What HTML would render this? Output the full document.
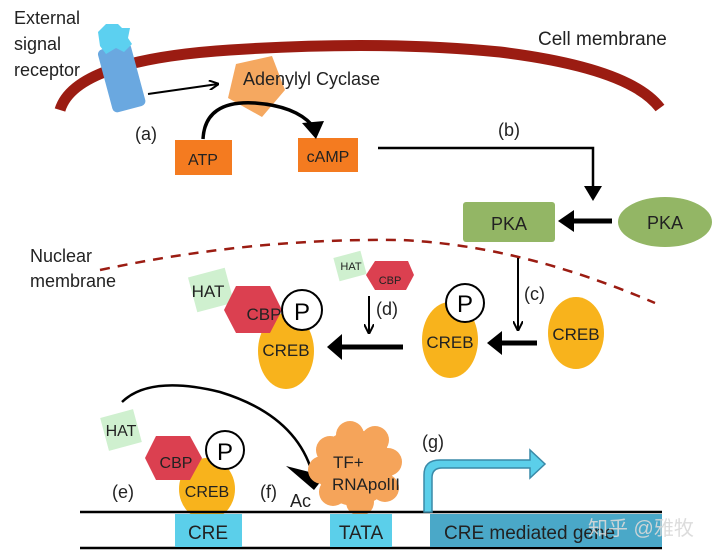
<!DOCTYPE html>
<html><head><meta charset="utf-8"><style>
body{margin:0;background:#fff;}
svg{display:block;font-family:"Liberation Sans","Noto Sans CJK SC",sans-serif;}
</style></head><body>
<svg width="720" height="557" viewBox="0 0 720 557" xmlns="http://www.w3.org/2000/svg">
<defs>
<marker id="ah" markerWidth="10" markerHeight="10" refX="9" refY="5" orient="auto" markerUnits="userSpaceOnUse"><path d="M0,0 L10,5 L0,10" fill="none" stroke="#000" stroke-width="2"/></marker>
</defs>
<!-- cell membrane -->
<path d="M60,110 Q75,60 230,50 Q380,40 500,52 Q630,68 660,108" fill="none" stroke="#9B1C12" stroke-width="11"/>
<text x="538" y="45" font-size="19" fill="#222">Cell membrane</text>
<text x="14" y="24" font-size="18" fill="#222">External</text>
<text x="14" y="50" font-size="18" fill="#222">signal</text>
<text x="14" y="76" font-size="18" fill="#222">receptor</text>
<!-- receptor -->
<g transform="rotate(-15 122 75)">
<rect x="104" y="45" width="34" height="65" rx="5" fill="#6AA8E0"/>
</g>
<path d="M98,32 l8,-8 h12 l4,4 l8,0 l-2,10 l4,6 l-8,8 l-8,-4 l-10,6 l-6,-8 z" fill="#5CD0F0"/>
<line x1="148" y1="94" x2="218" y2="84" stroke="#000" stroke-width="2" marker-end="url(#ah)"/>
<!-- adenylyl cyclase -->
<path d="M236,64 L272,56 L285,90 L262,117 L228,98 Z" fill="#F5A860"/>
<text x="243" y="85" font-size="18" fill="#222">Adenylyl Cyclase</text>
<text x="135" y="140" font-size="18" fill="#222">(a)</text>
<rect x="175" y="140" width="57" height="35" fill="#F47B20"/>
<text x="203" y="165" font-size="16" text-anchor="middle" fill="#222">ATP</text>
<rect x="298" y="138" width="60" height="34" fill="#F47B20"/>
<text x="328" y="162" font-size="16" text-anchor="middle" fill="#222">cAMP</text>
<path d="M203,139 Q205,100 255,103 Q295,106 312,125" fill="none" stroke="#000" stroke-width="3.5"/>
<path d="M302,123 L324,121 L316,139 Z" fill="#000"/>
<!-- (b) -->
<text x="498" y="136" font-size="18" fill="#222">(b)</text>
<path d="M378,148 H593 V188" fill="none" stroke="#000" stroke-width="2.5"/>
<path d="M584,186 L602,186 L593,201 Z" fill="#000"/>
<rect x="463" y="202" width="92" height="40" rx="3" fill="#93B665"/>
<text x="509" y="230" font-size="18" text-anchor="middle" fill="#222">PKA</text>
<ellipse cx="665" cy="222" rx="47" ry="25" fill="#93B665"/>
<text x="665" y="229" font-size="18" text-anchor="middle" fill="#222">PKA</text>
<line x1="612" y1="221" x2="572" y2="221" stroke="#000" stroke-width="5"/>
<path d="M574,210 L558,221 L574,232 Z" fill="#000"/>
<!-- nuclear membrane -->
<path d="M100,270 Q250,238 400,240 Q520,245 655,303" fill="none" stroke="#9B1C12" stroke-width="2.5" stroke-dasharray="10,8"/>
<text x="30" y="262" font-size="18" fill="#222">Nuclear</text>
<text x="30" y="287" font-size="18" fill="#222">membrane</text>
<!-- (c) -->
<line x1="518" y1="258" x2="518" y2="330" stroke="#000" stroke-width="2" marker-end="url(#ah)"/>
<text x="524" y="300" font-size="18" fill="#222">(c)</text>
<ellipse cx="576" cy="333" rx="28" ry="36" fill="#F8B31C"/>
<text x="576" y="340" font-size="17" text-anchor="middle" fill="#222">CREB</text>
<line x1="537" y1="343" x2="500" y2="343" stroke="#000" stroke-width="5"/>
<path d="M502,331 L487,343 L502,355 Z" fill="#000"/>
<ellipse cx="450" cy="340" rx="28" ry="38" fill="#F8B31C"/>
<text x="450" y="348" font-size="17" text-anchor="middle" fill="#222">CREB</text>
<circle cx="465" cy="303" r="19" fill="#fff" stroke="#000" stroke-width="2"/>
<text x="465" y="312" font-size="24" text-anchor="middle" fill="#000">P</text>
<!-- (d) -->
<rect x="336" y="254" width="28" height="24" fill="#CFF0CF" transform="rotate(-15 350 266)"/>
<text x="351" y="270" font-size="11" text-anchor="middle" fill="#222">HAT</text>
<path d="M366,275 L375,261 L408,261 L414,275 L406,290 L375,290 Z" fill="#DB4050"/>
<text x="390" y="284" font-size="11" text-anchor="middle" fill="#222">CBP</text>
<line x1="369" y1="296" x2="369" y2="333" stroke="#000" stroke-width="2" marker-end="url(#ah)"/>
<text x="376" y="315" font-size="18" fill="#222">(d)</text>
<line x1="403" y1="347" x2="340" y2="347" stroke="#000" stroke-width="5"/>
<path d="M342,334 L327,347 L342,360 Z" fill="#000"/>
<!-- left complex -->
<rect x="192" y="272" width="38" height="36" fill="#CFF0CF" transform="rotate(-15 211 290)"/>
<text x="208" y="297" font-size="17" text-anchor="middle" fill="#222">HAT</text>
<ellipse cx="286" cy="351" rx="28" ry="38" fill="#F8B31C"/>
<path d="M224,310 L236,286 L270,286 L282,310 L270,333 L236,333 Z" fill="#DB4050"/>
<text x="264" y="320" font-size="17" text-anchor="middle" fill="#222">CBP</text>
<circle cx="302" cy="310" r="20" fill="#fff" stroke="#000" stroke-width="2"/>
<text x="302" y="320" font-size="24" text-anchor="middle" fill="#000">P</text>
<text x="286" y="356" font-size="17" text-anchor="middle" fill="#222">CREB</text>
<!-- bottom -->
<path d="M122,402 Q150,375 220,392 Q295,415 312,472" fill="none" stroke="#000" stroke-width="2.5"/>
<path d="M286,466 L325,476 L314,490 Z" fill="#000"/>
<rect x="104" y="413" width="34" height="34" fill="#CFF0CF" transform="rotate(-15 121 430)"/>
<text x="121" y="436" font-size="16" text-anchor="middle" fill="#222">HAT</text>
<ellipse cx="207" cy="489" rx="28" ry="31" fill="#F8B31C"/>
<path d="M145,458 L156,436 L190,436 L202,458 L190,480 L156,480 Z" fill="#DB4050"/>
<text x="176" y="468" font-size="16" text-anchor="middle" fill="#222">CBP</text>
<circle cx="225" cy="450" r="19" fill="#fff" stroke="#000" stroke-width="2"/>
<text x="225" y="460" font-size="24" text-anchor="middle" fill="#000">P</text>
<text x="207" y="497" font-size="16" text-anchor="middle" fill="#222">CREB</text>
<text x="112" y="498" font-size="18" fill="#222">(e)</text>
<text x="260" y="498" font-size="18" fill="#222">(f)</text>
<text x="290" y="507" font-size="18" fill="#222">Ac</text>
<g fill="#F5A45A">
<ellipse cx="355" cy="468" rx="38" ry="38"/>
<circle cx="330" cy="450" r="14"/><circle cx="350" cy="435" r="14"/><circle cx="375" cy="440" r="14"/>
<circle cx="388" cy="462" r="14"/><circle cx="385" cy="488" r="14"/><circle cx="360" cy="502" r="14"/>
<circle cx="333" cy="492" r="14"/><circle cx="322" cy="470" r="14"/>
</g>
<text x="333" y="468" font-size="17" fill="#222">TF+</text>
<text x="332" y="490" font-size="17" fill="#222">RNApolII</text>
<text x="422" y="448" font-size="18" fill="#222">(g)</text>
<!-- DNA -->
<line x1="80" y1="512" x2="662" y2="512" stroke="#000" stroke-width="2.5"/>
<line x1="80" y1="548" x2="662" y2="548" stroke="#000" stroke-width="2.5"/>
<rect x="175" y="514" width="67" height="33" fill="#5BCFEA"/>
<text x="208" y="539" font-size="19" text-anchor="middle" fill="#222">CRE</text>
<rect x="330" y="514" width="62" height="33" fill="#5BCFEA"/>
<text x="361" y="539" font-size="19" text-anchor="middle" fill="#222">TATA</text>
<rect x="430" y="514" width="232" height="33" fill="#4AA8C8"/>
<text x="444" y="539" font-size="19" fill="#222">CRE mediated gene</text>
<!-- bent arrow -->
<path d="M424,512 V475 Q424,460 440,460 H530 V450 L545,464 L530,478 V468 H442 Q432,468 432,478 V512 Z" fill="#5BCFEA" stroke="#3A8AA8" stroke-width="1.5"/>
<text x="588" y="535" font-size="20" fill="#d8d8d8" fill-opacity="0.9">知乎 @雅牧</text>
</svg>
</body></html>
